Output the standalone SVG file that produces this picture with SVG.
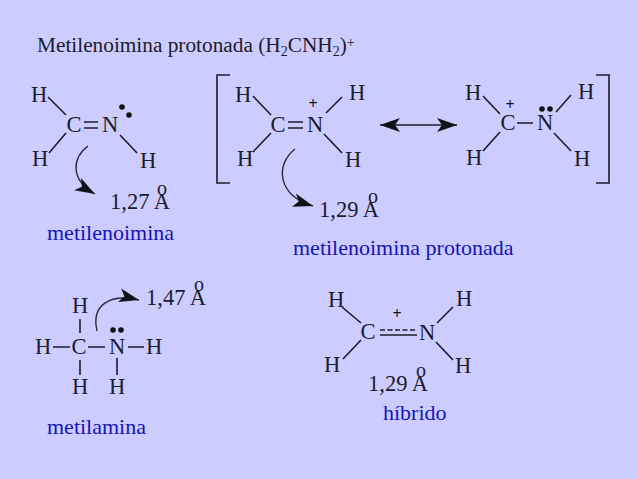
<svg xmlns="http://www.w3.org/2000/svg" width="638" height="479" viewBox="0 0 638 479">
<style>
text{font-family:"Liberation Serif","Times New Roman",serif;fill:#1c1c2c}
.t{font-size:21.3px}
.s{font-size:14px}
.a{font-size:22.5px;text-anchor:middle}
.d{font-size:22.5px}
.o{font-size:20px;text-anchor:middle}
.b{font-size:22px;fill:#1414b8}
.p{font-size:16px;font-weight:bold;text-anchor:middle;fill:#111118}
.l{stroke:#1c1c2c;stroke-width:1.6;fill:none}
.c{stroke:#2a2a3a;stroke-width:1.4;fill:none}
.f{fill:#111118;stroke:none}
.k{fill:#111118}
</style>
<defs>
<marker id="h" markerUnits="userSpaceOnUse" markerWidth="22" markerHeight="16" refX="20" refY="8" orient="auto"><path class="f" d="M0,1 L20,8 L0,15 L5,8 Z"/></marker>
<marker id="hs" markerUnits="userSpaceOnUse" markerWidth="22" markerHeight="16" refX="2" refY="8" orient="auto"><path class="f" d="M22,1 L2,8 L22,15 L17,8 Z"/></marker>
</defs>
<rect width="638" height="479" fill="#ccccff"/>
<g id="title"><text class="t" x="37" y="52">Metilenoimina protonada (H<tspan class="s" dy="4">2</tspan><tspan dy="-4">CNH</tspan><tspan class="s" dy="4">2</tspan><tspan dy="-4">)</tspan><tspan class="s" dy="-5">+</tspan></text></g>
<g id="connectors">
<path class="l" d="M48,97L66,115M66,133L49,153M120,135L137,153M84,122H98M84,128H98"/>
<path class="c" marker-end="url(#h)" d="M88,146C72,158 70,180 95,194"/>
<path class="l" d="M253,96L271,115M271,133L253,152M326,113L342,97M324,134L342,153M288,122H303M288,128H303"/>
<path class="c" marker-end="url(#h)" d="M295,149C275,165 277,195 313,206"/>
<path class="l" d="M230,75H217V183H230"/>
<path class="l" marker-start="url(#hs)" marker-end="url(#h)" d="M380,125H457"/>
<path class="l" d="M483,96L500,114M500,132L483,151M517,123H533M556,112L571,95M554,133L571,151"/>
<path class="l" d="M596,75H609V183H596"/>
<path class="l" d="M80,319V333M80,360V375M53,347H70M88,347H105M128,347H144M117,358V375"/>
<path class="c" marker-end="url(#h)" d="M97,331C91,305 110,293 139,300"/>
<path class="l" d="M342,307L361,323M361,340L343,359M437,323L453,307M436,342L453,360M380,335H417"/>
<path class="l" stroke-dasharray="5 2.5" d="M380,330H417"/>
</g>
<g id="metilenoimina">
<text class="a" x="39" y="102">H</text><text class="a" x="40" y="166">H</text><text class="a" x="74" y="132">C</text><text class="a" x="110" y="132">N</text><text class="a" x="148" y="168">H</text>
<circle class="k" cx="122" cy="107" r="2.8"/><circle class="k" cx="129" cy="115" r="2.8"/>
<text class="d" x="110" y="209">1,27 A</text><text class="o" x="162" y="195">o</text>
<text class="b" x="47" y="240">metilenoimina</text>
</g>
<g id="protonada-a">
<text class="a" x="243" y="102">H</text><text class="a" x="245" y="166">H</text><text class="a" x="278" y="132">C</text><text class="a" x="315" y="132">N</text><text class="a" x="357" y="100">H</text><text class="a" x="353" y="167">H</text>
<text class="p" x="313" y="109">+</text>
<text class="d" x="319" y="217">1,29 A</text><text class="o" x="373" y="203">o</text>
<text class="b" x="293" y="255">metilenoimina protonada</text>
</g>
<g id="protonada-b">
<text class="a" x="473" y="100">H</text><text class="a" x="474" y="165">H</text><text class="a" x="508" y="130">C</text><text class="a" x="545" y="130">N</text><text class="a" x="586" y="99">H</text><text class="a" x="582" y="166">H</text>
<text class="p" x="510" y="110">+</text>
<circle class="k" cx="542" cy="109" r="2.8"/><circle class="k" cx="550" cy="109" r="2.8"/>
</g>
<g id="metilamina">
<text class="a" x="80" y="313">H</text><text class="a" x="79" y="354">C</text><text class="a" x="117" y="354">N</text><text class="a" x="43" y="354">H</text><text class="a" x="154" y="354">H</text><text class="a" x="80" y="394">H</text><text class="a" x="117" y="394">H</text>
<circle class="k" cx="113" cy="330" r="2.8"/><circle class="k" cx="121" cy="330" r="2.8"/>
<text class="d" x="146" y="305">1,47 A</text><text class="o" x="199" y="291">o</text>
<text class="b" x="47" y="434">metilamina</text>
</g>
<g id="hibrido">
<text class="a" x="336" y="307">H</text><text class="a" x="332" y="372">H</text><text class="a" x="368" y="339">C</text><text class="a" x="427" y="340">N</text><text class="a" x="464" y="306">H</text><text class="a" x="463" y="373">H</text>
<text class="p" x="397" y="319">+</text>
<text class="d" x="368" y="391">1,29 A</text><text class="o" x="421" y="377">o</text>
<text class="b" x="383" y="420">híbrido</text>
</g>
</svg>
